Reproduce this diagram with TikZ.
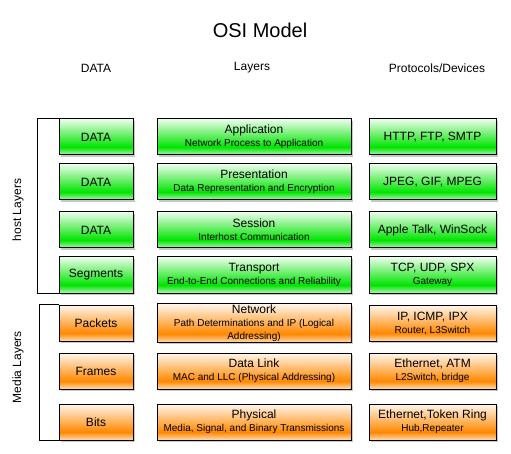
\documentclass[tikz,border=0pt]{standalone}
\usepackage{fontspec}
\setmainfont{Liberation Sans}
\usetikzlibrary{positioning, shadows}

\definecolor{glassgreen}{RGB}{0,228,0}
\definecolor{glassorange}{RGB}{255,136,0}
\pgfdeclareverticalshading{greenglass}{100bp}{color(0bp)=(glassgreen!30!white); color(25bp)=(glassgreen!30!white); color(36bp)=(glassgreen); color(75bp)=(glassgreen!7!white); color(100bp)=(glassgreen!7!white)}
\pgfdeclareverticalshading{orangeglass}{100bp}{color(0bp)=(glassorange!30!white); color(25bp)=(glassorange!30!white); color(36bp)=(glassorange); color(75bp)=(glassorange!7!white); color(100bp)=(glassorange!7!white)}

\tikzset{
  layerbox/.style={draw, line width=1pt, minimum height=36pt, inner sep=1pt, align=center,
    font=\fontsize{12}{13}\selectfont,
    drop shadow={shadow xshift=2pt, shadow yshift=-2pt, fill=black!22, opacity=1}},
  hostbox/.style={layerbox, shading=greenglass},
  mediabox/.style={layerbox, shading=orangeglass},
  datacol/.style={minimum width=74pt},
  layercol/.style={minimum width=194pt},
  protocol/.style={minimum width=127pt},
  heading/.style={font=\fontsize{12}{14}\selectfont},
}
\newcommand{\subtext}[1]{{\fontsize{10}{13}\selectfont #1}}

\begin{document}
\begin{tikzpicture}[x=1pt, y=-1pt]
    \useasboundingbox (0,0) rectangle (511,454);

    \node[font=\fontsize{20}{24}\selectfont] (title) at (260,30) {OSI Model};
    \node[heading] (hdata) at (96,68) {DATA};
    \node[heading] (hlayers) at (252,68) {Layers};
    \node[heading] (hprot) at (437,68) {Protocols/Devices};

    % host layers
    \node[hostbox, datacol] (data7) at (96,137) {DATA};
    \node[hostbox, layercol] (application) at (254,137) {Application\\\subtext{Network Process to Application}};
    \node[hostbox, protocol] (prot7) at (432.5,137) {HTTP, FTP, SMTP};

    \node[hostbox, datacol] (data6) at (96,182) {DATA};
    \node[hostbox, layercol] (presentation) at (254,182) {Presentation\\\subtext{Data Representation and Encryption}};
    \node[hostbox, protocol] (prot6) at (432.5,182) {JPEG, GIF, MPEG};

    \node[hostbox, datacol] (data5) at (96,230) {DATA};
    \node[hostbox, layercol] (session) at (254,230) {Session\\\subtext{Interhost Communication}};
    \node[hostbox, protocol] (prot5) at (432.5,230) {Apple Talk, WinSock};

    \node[hostbox, datacol] (data4) at (96,275) {Segments};
    \node[hostbox, layercol] (transport) at (254,275) {Transport\\\subtext{End-to-End Connections and Reliability}};
    \node[hostbox, protocol] (prot4) at (432.5,275) {TCP, UDP, SPX\\\subtext{Gateway}};

    % media layers
    \node[mediabox, datacol] (data3) at (96,323) {Packets};
    \node[mediabox, layercol] (network) at (254,323) {Network\\\subtext{Path Determinations and IP (Logical}\\\subtext{Addressing)}};
    \node[mediabox, protocol] (prot3) at (432.5,323) {IP, ICMP, IPX\\\subtext{Router, L3Switch}};

    \node[mediabox, datacol] (data2) at (96,371) {Frames};
    \node[mediabox, layercol] (datalink) at (254,371) {Data Link\\\subtext{MAC and LLC (Physical Addressing)}};
    \node[mediabox, protocol] (prot2) at (432.5,371) {Ethernet, ATM\\\subtext{L2Switch, bridge}};

    \node[mediabox, datacol] (data1) at (96,422) {Bits};
    \node[mediabox, layercol] (physical) at (254,422) {Physical\\\subtext{Media, Signal, and Binary Transmissions}};
    \node[mediabox, protocol] (prot1) at (432.5,422) {Ethernet,Token Ring\\\subtext{Hub,Repeater}};

    % brackets
    \draw[line width=1pt] (data7.north west) -- ++(-21,0) |- (data4.south west);
    \draw[line width=1pt] (data3.north west) -- ++(-19,0) |- (data1.south west);
    \node[heading, rotate=90] (hostlabel) at (18,210) {host Layers};
    \node[heading, rotate=90] (medialabel) at (18,367) {Media Layers};
\end{tikzpicture}
\end{document}
